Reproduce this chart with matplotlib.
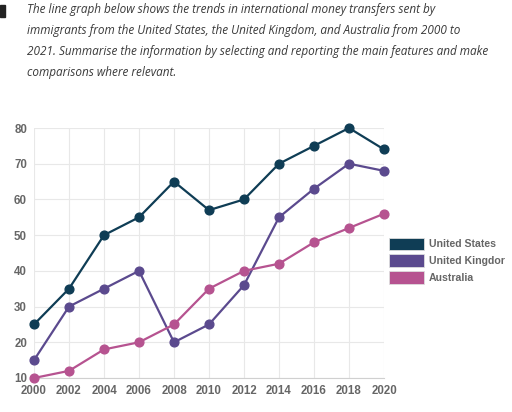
import matplotlib.pyplot as plt
from matplotlib.patches import Patch, Rectangle

years = [2000, 2002, 2004, 2006, 2008, 2010, 2012, 2014, 2016, 2018, 2020]
united_states = [25, 35, 50, 55, 65, 57, 60, 70, 75, 80, 74]
united_kingdom = [15, 30, 35, 40, 20, 25, 36, 55, 63, 70, 68]
australia = [10, 12, 18, 20, 25, 35, 40, 42, 48, 52, 56]
legend_labels = ["United States", "United Kingdor", "Australia"]
colors = ["#0f3d55", "#5b4a8e", "#b65390"]

prompt_lines = [
    "The line graph below shows the trends in international money transfers sent by",
    "immigrants from the United States, the United Kingdom, and Australia from 2000 to",
    "2021. Summarise the information by selecting and reporting the main features and make",
    "comparisons where relevant.",
]

fig = plt.figure(figsize=(5.12, 4.12), dpi=100)
fig.patch.set_facecolor("white")

# prompt text above the chart
fig.patches.append(Rectangle((0, 1 - 17 / 412), 5 / 512, 12 / 412,
                             transform=fig.transFigure, color="#222222"))
for i, line in enumerate(prompt_lines):
    fig.text(27 / 512, 1 - (10 + i * 20.7) / 412, line, fontsize=8.5,
             style="italic", family="Open Sans", color="#3a3a3a", va="center")

ax = fig.add_axes([34 / 512, 34 / 412, 350 / 512, 250 / 412])
for series, c in zip([united_states, united_kingdom, australia], colors):
    ax.plot(years, series, color=c, lw=1.6, marker="o", ms=6.3, zorder=3, clip_on=False)

ax.set_xlim(2000, 2020)
ax.set_ylim(10, 80)
ax.set_xticks(years)
ax.set_yticks(range(10, 81, 10))
ax.grid(True, color="#e8e8e8", lw=0.8)
for s in ["top", "right", "left"]:
    ax.spines[s].set_visible(False)
ax.spines["bottom"].set_color("#d0d0d0")
ax.tick_params(length=0, labelsize=8.3, labelcolor="#666666", pad=5)
for lab in ax.get_xticklabels() + ax.get_yticklabels():
    lab.set_fontweight("bold")
    lab.set_family("Liberation Sans")

handles = [Patch(facecolor=c, edgecolor="#dddddd", lw=0.6) for c in colors]
leg = fig.legend(handles, legend_labels, loc="upper left",
                 bbox_to_anchor=(379 / 512, 1 - 228 / 412), frameon=False,
                 handlelength=3.4, handleheight=1.5, handletextpad=0.45,
                 labelspacing=0.38, prop={"family": "Liberation Sans", "weight": "bold", "size": 7.6})
for t in leg.get_texts():
    t.set_color("#666666")

fig.savefig("out.png", dpi=100)
